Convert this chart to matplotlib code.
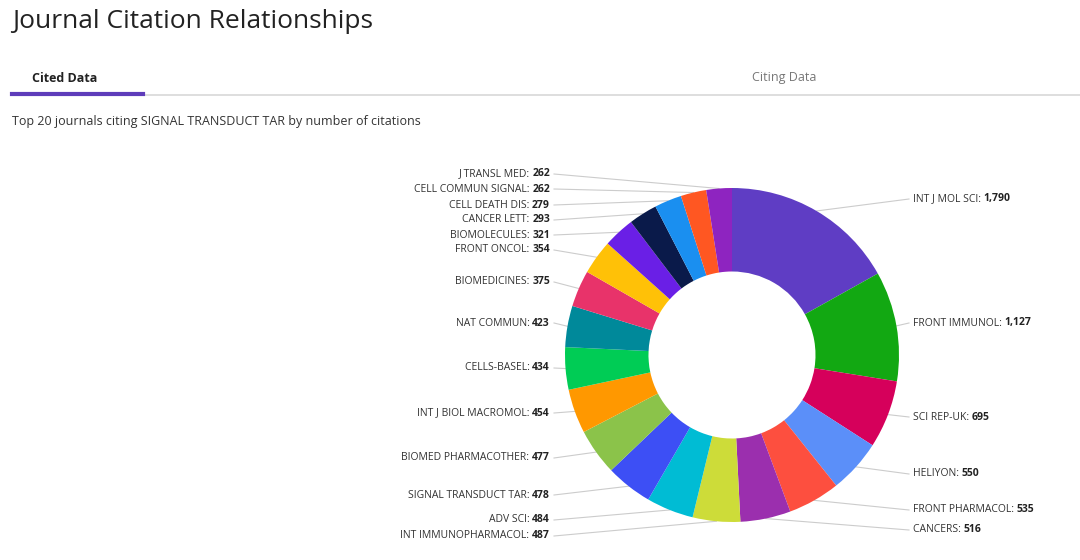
import numpy as np
import matplotlib.pyplot as plt

plt.rcParams['font.family'] = ['Open Sans', 'DejaVu Sans']

journals = ["INT J MOL SCI", "FRONT IMMUNOL", "SCI REP-UK", "HELIYON", "FRONT PHARMACOL",
            "CANCERS", "INT IMMUNOPHARMACOL", "ADV SCI", "SIGNAL TRANSDUCT TAR",
            "BIOMED PHARMACOTHER", "INT J BIOL MACROMOL", "CELLS-BASEL", "NAT COMMUN",
            "BIOMEDICINES", "FRONT ONCOL", "BIOMOLECULES", "CANCER LETT", "CELL DEATH DIS",
            "CELL COMMUN SIGNAL", "J TRANSL MED"]
citations = [1790, 1127, 695, 550, 535, 516, 487, 484, 478, 477, 454, 434, 423,
             375, 354, 321, 293, 279, 262, 262]
colors = ["#5f3dc4", "#12a812", "#d6005b", "#5b8ff9", "#fd4f3f", "#9b2fae", "#cddc39",
          "#00bcd4", "#3d4ff5", "#8bc34a", "#ff9800", "#00cc55", "#00899a", "#e8336a",
          "#ffc107", "#6a1fe6", "#0a1a4a", "#1a8ff0", "#ff5722", "#8e24c0"]
# label y positions (pixels), layout only
label_y = [199, 323, 417, 474, 510, 530, 536, 520, 495, 458, 413, 368, 323,
           282, 250, 235, 220, 205, 189, 174]

W, H = 1080, 560
fig = plt.figure(figsize=(10.8, 5.6), dpi=100)
cx, cy, r = 732, 355, 167
pax = fig.add_axes([(cx - r) / W, (H - cy - r) / H, 2 * r / W, 2 * r / H])
pax.pie(citations, colors=colors, startangle=90, counterclock=False,
        wedgeprops=dict(width=0.5, linewidth=0))
pax.set_aspect('auto')
pax.set_xlim(-1, 1)
pax.set_ylim(-1, 1)

ov = fig.add_axes([0, 0, 1, 1], zorder=-1)
ov.set_xlim(0, W)
ov.set_ylim(H, 0)
ov.axis('off')

ov.text(12, 22, "Journal Citation Relationships", fontsize=19, color="#222222", va='center')
ov.text(32, 78, "Cited Data", fontsize=9, fontweight='bold', color="#222222", va='center')
ov.text(752, 78, "Citing Data", fontsize=9, color="#777777", va='center')
ov.plot([12, 1080], [94.5, 94.5], color="#d8d8d8", lw=1.2)
ov.plot([12, 143], [93.5, 93.5], color="#5e3cba", lw=3)
ov.text(12, 121, "Top 20 journals citing SIGNAL TRANSDUCT TAR by number of citations",
        fontsize=9, color="#333333", va='center')

total = sum(citations)
cum = 0
for name, v, ly in zip(journals, citations, label_y):
    frac_mid = (cum + v / 2) / total
    cum += v
    theta = np.radians(90 - 360 * frac_mid)
    ax_ = cx + r * np.cos(theta)
    ay_ = cy - r * np.sin(theta)
    right = frac_mid < 0.5
    tx = 913 if right else 550
    ov.plot([ax_, tx + (-4 if right else 4)], [ay_, ly], color="#cccccc", lw=0.8)
    if right:
        t1 = ov.text(tx, ly, f"{name}: ", fontsize=7.5, color="#333333", va='center', ha='left')
        fig.canvas.draw()
        bb = t1.get_window_extent()
        fig.text(bb.x1 / W, (H - ly) / H, f"{v:,}", fontsize=7.5, fontweight='bold',
                 color="#222222", va='center', ha='left')
    else:
        t1 = ov.text(tx, ly, f"{v:,}", fontsize=7.5, fontweight='bold', color="#222222",
                     va='center', ha='right')
        fig.canvas.draw()
        bb = t1.get_window_extent()
        fig.text(bb.x0 / W, (H - ly) / H, f"{name}: ", fontsize=7.5, color="#333333",
                 va='center', ha='right')

fig.savefig('out.png', dpi=100)
